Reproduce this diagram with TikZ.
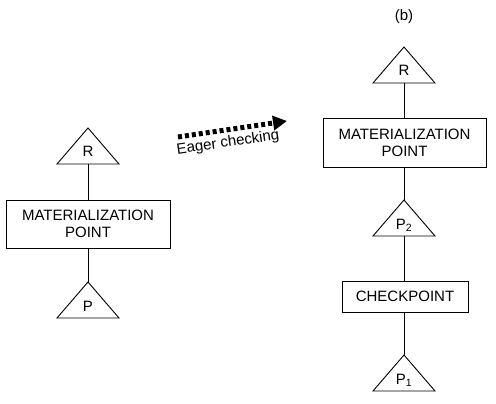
\documentclass[tikz,border=0pt]{standalone}
\usepackage{fontspec}
\setmainfont{Liberation Sans}
\usetikzlibrary{arrows.meta}
\tikzset{
  conn/.style={draw=black, line width=0.9pt},
  boxnode/.style={draw=black, line width=0.9pt, align=center, inner sep=0pt,
    font=\fontsize{15}{17}\selectfont},
  trilbl/.style={anchor=base, inner sep=0pt, font=\fontsize{15}{17}\selectfont},
  trishape/.style={draw=black, line width=0.9pt, line join=miter},
  eager/.style={line width=5pt, dash pattern=on 4pt off 3pt,
    -{Triangle[length=14pt,width=14pt]}},
}
\newcommand\mytri[4]{%
  \coordinate (#1-t) at (#2,#3);
  \coordinate (#1-b) at (#2,#3+36);
  \draw[trishape] (#2-31,#3+36) -- (#1-t) -- (#2+31,#3+36) -- cycle;
  \node[trilbl] (#1) at (#2,#3+29) {#4};}
\begin{document}
\begin{tikzpicture}[x=1pt,y=-1pt]
\useasboundingbox (0,0) rectangle (496,404);
% left (a)
\mytri{LR}{88}{128}{R}
\node[boxnode, minimum width=164pt, minimum height=48pt] (LM) at (88,224) {MATERIALIZATION\\POINT};
\mytri{LP}{88}{282}{P}
\draw[conn] (LR-b) -- (LM.north);
\draw[conn] (LM.south) -- (LP-t);
% arrow
\coordinate (A1) at (178,137);
\coordinate (A2) at (287,121);
\draw[eager] (A1) -- (A2);
\node[rotate=8, inner sep=0pt, font=\fontsize{15}{17}\selectfont] (EC) at (228,143) {Eager checking};
% right (b)
\node[inner sep=0pt, font=\fontsize{15}{17}\selectfont] (B) at (404,17) {(b)};
\mytri{RR}{404}{47}{R}
\node[boxnode, minimum width=163pt, minimum height=49pt] (RM) at (404.5,142.5) {MATERIALIZATION\\POINT};
\mytri{RP2}{404}{200}{P\textsubscript{2}}
\node[boxnode, minimum width=126pt, minimum height=31pt] (CP) at (405,296.5) {CHECKPOINT};
\mytri{RP1}{404}{355}{P\textsubscript{1}}
\draw[conn] (RR-b) -- (RM.north -| RR-b);
\draw[conn] (RM.south -| RR-b) -- (RP2-t);
\draw[conn] (RP2-b) -- (CP.north -| RP2-b);
\draw[conn] (CP.south -| RP2-b) -- (RP1-t);
\end{tikzpicture}
\end{document}
